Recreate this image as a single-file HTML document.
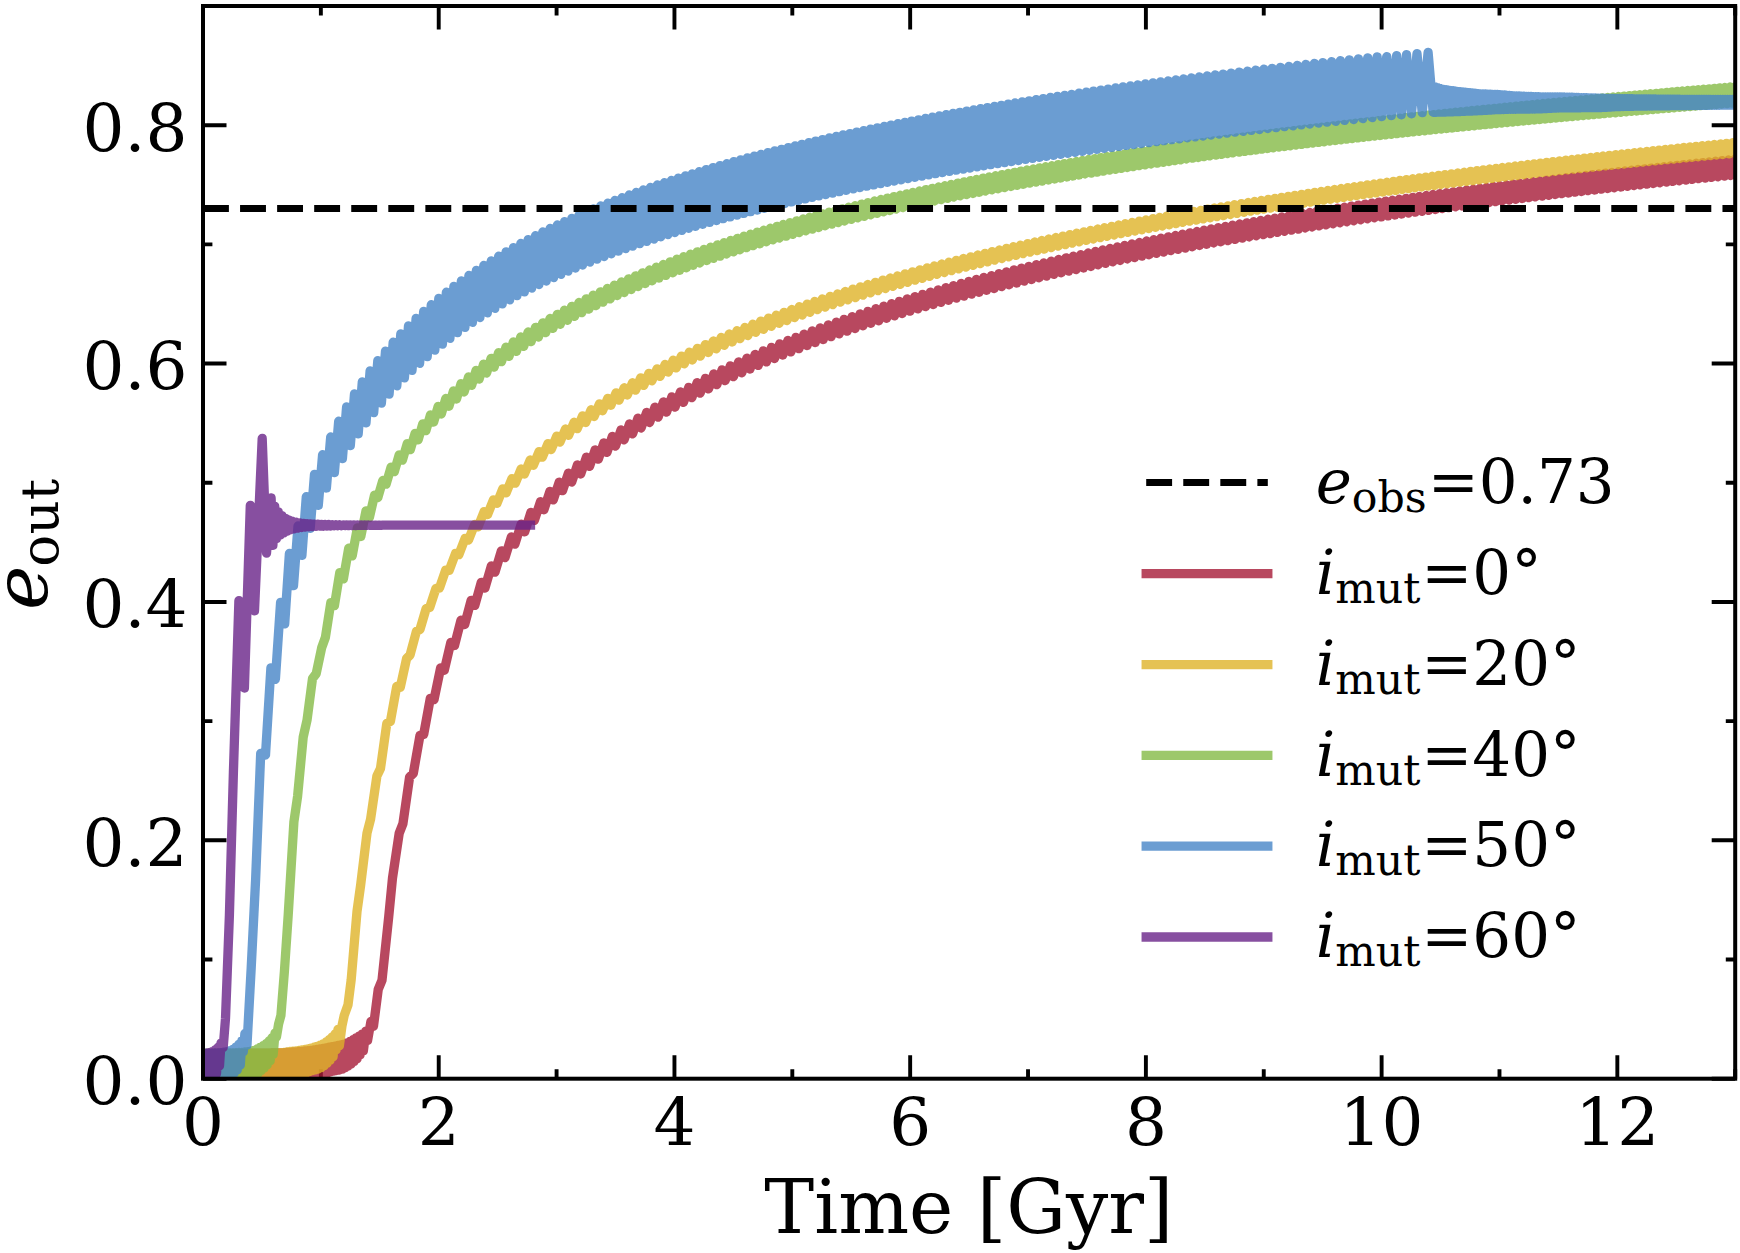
<!DOCTYPE html>
<html lang="en"><head><meta charset="utf-8"><title>e_out vs Time</title>
<style>html,body{margin:0;padding:0;background:#fff}svg{display:block}</style></head>
<body>
<svg width="1740" height="1253" viewBox="0 0 1740 1253" role="img" aria-label="Outer eccentricity versus time for several mutual inclinations">
<rect width="1740" height="1253" fill="#fff"/>
<defs><clipPath id="ax"><rect x="203.0" y="6.0" width="1532.2" height="1072.7"/></clipPath></defs>
<path d="M203.00 1078.70 v-23.50 M203.00 6.00 v23.50 M320.86 1078.70 v-9.40 M320.86 6.00 v9.40 M438.72 1078.70 v-23.50 M438.72 6.00 v23.50 M556.58 1078.70 v-9.40 M556.58 6.00 v9.40 M674.45 1078.70 v-23.50 M674.45 6.00 v23.50 M792.31 1078.70 v-9.40 M792.31 6.00 v9.40 M910.17 1078.70 v-23.50 M910.17 6.00 v23.50 M1028.03 1078.70 v-9.40 M1028.03 6.00 v9.40 M1145.89 1078.70 v-23.50 M1145.89 6.00 v23.50 M1263.75 1078.70 v-9.40 M1263.75 6.00 v9.40 M1381.62 1078.70 v-23.50 M1381.62 6.00 v23.50 M1499.48 1078.70 v-9.40 M1499.48 6.00 v9.40 M1617.34 1078.70 v-23.50 M1617.34 6.00 v23.50 M1735.20 1078.70 v-9.40 M1735.20 6.00 v9.40 M203.00 1078.70 h23.50 M1735.20 1078.70 h-23.50 M203.00 959.51 h9.40 M1735.20 959.51 h-9.40 M203.00 840.32 h23.50 M1735.20 840.32 h-23.50 M203.00 721.13 h9.40 M1735.20 721.13 h-9.40 M203.00 601.94 h23.50 M1735.20 601.94 h-23.50 M203.00 482.76 h9.40 M1735.20 482.76 h-9.40 M203.00 363.57 h23.50 M1735.20 363.57 h-23.50 M203.00 244.38 h9.40 M1735.20 244.38 h-9.40 M203.00 125.19 h23.50 M1735.20 125.19 h-23.50 M203.00 6.00 h9.40 M1735.20 6.00 h-9.40" stroke="#000" stroke-width="3.9" fill="none"/>
<g clip-path="url(#ax)">
<path d="M200.0 1053.3 L201.1 1078.7 L203.0 1053.3 L204.1 1078.7 L206.0 1053.3 L207.1 1078.7 L209.0 1053.3 L210.1 1078.7 L212.0 1053.3 L213.1 1078.7 L215.0 1053.3 L216.1 1078.7 L218.0 1053.3 L219.1 1078.7 L221.0 1053.3 L222.1 1078.7 L224.0 1053.3 L225.1 1078.7 L227.0 1053.3 L228.1 1078.7 L230.0 1053.3 L231.1 1078.7 L233.0 1053.3 L234.1 1078.7 L236.0 1053.3 L237.1 1078.7 L239.0 1053.3 L240.1 1078.7 L242.0 1053.3 L243.1 1078.7 L245.0 1053.3 L246.1 1078.7 L248.0 1053.3 L249.1 1078.7 L251.0 1053.2 L252.1 1078.7 L254.0 1053.2 L255.1 1078.7 L257.0 1053.2 L258.1 1078.7 L260.0 1053.2 L261.1 1078.7 L263.0 1053.1 L264.1 1078.7 L266.0 1053.1 L267.1 1078.7 L269.0 1053.1 L270.1 1078.7 L272.0 1053.0 L273.1 1078.7 L275.0 1052.9 L276.1 1078.7 L278.0 1052.9 L279.1 1078.7 L281.0 1052.8 L282.1 1078.7 L284.0 1052.7 L285.1 1078.7 L287.0 1052.5 L288.1 1078.7 L290.0 1052.3 L291.1 1078.7 L293.0 1052.0 L294.1 1078.7 L296.0 1051.8 L297.1 1078.7 L299.0 1051.5 L300.1 1078.7 L302.0 1051.3 L303.1 1078.7 L305.0 1051.0 L306.1 1078.7 L308.0 1050.7 L309.1 1078.7 L311.0 1050.4 L312.1 1078.7 L314.0 1050.0 L315.1 1078.4 L317.0 1049.5 L318.1 1077.7 L320.0 1048.9 L321.1 1076.8 L323.0 1048.4 L324.1 1075.1 L326.0 1047.8 L327.1 1073.2 L329.0 1047.2 L330.1 1071.8 L332.0 1046.6 L333.1 1071.1 L335.0 1046.1 L336.1 1070.5 L338.0 1045.5 L339.1 1070.0 L341.0 1044.9 L342.1 1069.1 L344.0 1044.1 L345.1 1067.7 L347.0 1042.9 L348.1 1066.0 L350.0 1041.4 L351.1 1064.0 L353.0 1039.7 L354.1 1061.4 L356.0 1037.9 L357.1 1058.7 L359.0 1036.1 L360.1 1054.8 L362.0 1034.2 L363.4 1050.6 L365.8 1031.2 L367.6 1040.5 L370.9 1021.5 L373.5 1026.1 L378.2 989.6 L382.0 980.2 L388.7 916.9 L392.5 878.0 L399.2 833.2 L402.9 823.8 L409.6 777.0 L413.3 773.4 L420.0 735.2 L423.7 734.4 L430.3 698.3 L434.0 699.7 L440.6 668.0 L444.3 670.3 L450.8 642.5 L454.5 645.5 L461.0 620.2 L464.7 624.5 L471.2 600.3 L474.8 605.4 L481.3 582.3 L484.9 588.1 L491.4 565.9 L495.0 572.2 L501.4 550.8 L505.0 557.6 L511.4 536.9 L514.9 544.2 L521.2 524.2 L524.7 531.8 L530.9 512.5 L534.4 520.4 L540.5 501.6 L543.9 509.8 L549.9 491.5 L553.3 499.9 L559.2 482.1 L562.5 490.7 L568.4 473.2 L571.7 482.1 L577.4 465.0 L580.7 474.0 L586.4 457.2 L589.5 466.4 L595.1 449.9 L598.3 459.2 L603.8 442.9 L606.9 452.4 L612.4 436.3 L615.5 446.0 L621.0 430.0 L624.1 439.8 L629.5 424.0 L632.6 433.8 L638.0 418.1 L641.1 428.0 L646.6 412.5 L649.6 422.5 L655.0 407.1 L658.1 417.2 L663.5 401.9 L666.5 412.1 L671.9 396.8 L675.0 407.1 L680.4 392.0 L683.4 402.3 L688.8 387.3 L691.8 397.7 L697.1 382.7 L700.1 393.2 L705.5 378.3 L708.5 388.9 L713.8 374.0 L716.8 384.7 L722.1 369.8 L725.1 380.6 L730.4 365.8 L733.4 376.7 L738.7 361.9 L741.7 372.8 L747.0 358.1 L749.9 369.1 L755.2 354.4 L758.2 365.4 L763.4 350.8 L766.4 361.9 L771.6 347.3 L774.5 358.5 L779.8 343.8 L782.7 355.1 L787.9 340.5 L790.8 351.9 L796.0 337.3 L798.9 348.7 L804.1 334.1 L807.0 345.6 L812.2 331.0 L815.1 342.6 L820.2 328.0 L823.1 339.6 L828.3 325.0 L831.1 336.7 L836.3 322.2 L839.1 333.9 L844.2 319.3 L847.1 331.2 L852.2 316.6 L855.1 328.5 L860.1 313.9 L863.0 325.8 L868.0 311.3 L870.9 323.3 L875.9 308.7 L878.8 320.8 L883.8 306.2 L886.6 318.3 L891.6 303.7 L894.4 315.9 L899.4 301.3 L902.2 313.5 L907.2 298.9 L910.0 311.2 L915.0 296.6 L917.8 308.9 L922.8 294.3 L925.5 306.7 L930.5 292.1 L933.3 304.5 L938.2 289.9 L940.9 302.4 L945.9 287.7 L948.6 300.3 L953.5 285.6 L956.3 298.2 L961.2 283.5 L963.9 296.2 L968.8 281.5 L971.5 294.2 L976.4 279.5 L979.1 292.3 L983.9 277.5 L986.6 290.3 L991.5 275.6 L994.2 288.5 L999.0 273.7 L1001.7 286.6 L1006.5 271.8 L1009.2 284.8 L1014.0 270.0 L1016.7 283.0 L1021.5 268.2 L1024.2 281.2 L1028.9 266.4 L1031.6 279.5 L1036.4 264.6 L1039.1 277.8 L1043.8 262.9 L1046.5 276.1 L1051.2 261.2 L1053.9 274.4 L1058.6 259.5 L1061.3 272.8 L1066.0 257.8 L1068.7 271.2 L1073.4 256.2 L1076.1 269.6 L1080.8 254.6 L1083.4 268.0 L1088.1 253.0 L1090.8 266.5 L1095.5 251.4 L1098.1 264.9 L1102.8 249.9 L1105.5 263.4 L1110.1 248.4 L1112.8 261.9 L1117.4 246.9 L1120.1 260.5 L1124.7 245.4 L1127.4 259.0 L1132.0 243.9 L1134.6 257.6 L1139.3 242.5 L1141.9 256.2 L1146.5 241.0 L1149.1 254.8 L1153.8 239.6 L1156.4 253.4 L1161.0 238.2 L1163.6 252.1 L1168.2 236.8 L1170.8 250.7 L1175.4 235.5 L1178.0 249.4 L1182.6 234.1 L1185.2 248.1 L1189.8 232.8 L1192.4 246.8 L1196.9 231.5 L1199.5 245.5 L1204.1 230.2 L1206.7 244.3 L1211.2 228.9 L1213.8 243.0 L1218.3 227.7 L1220.9 241.8 L1225.5 226.4 L1228.0 240.6 L1232.6 225.2 L1235.1 239.4 L1239.6 224.0 L1242.2 238.2 L1246.7 222.8 L1249.3 237.0 L1253.8 221.6 L1256.3 235.8 L1260.8 220.4 L1263.4 234.7 L1267.9 219.2 L1270.4 233.6 L1274.9 218.1 L1277.4 232.4 L1281.9 216.9 L1284.4 231.3 L1288.9 215.8 L1291.4 230.2 L1295.9 214.7 L1298.4 229.1 L1302.9 213.6 L1305.4 228.0 L1309.8 212.5 L1312.3 227.0 L1316.8 211.4 L1319.3 225.9 L1323.7 210.3 L1326.2 224.9 L1330.6 209.3 L1333.1 223.8 L1337.5 208.2 L1340.0 222.8 L1344.4 207.2 L1346.9 221.8 L1351.3 206.1 L1353.8 220.8 L1358.2 205.1 L1360.7 219.8 L1365.1 204.1 L1367.5 218.8 L1371.9 203.1 L1374.4 217.8 L1378.8 202.1 L1381.2 216.9 L1385.6 201.1 L1388.0 215.9 L1392.4 200.2 L1394.9 215.0 L1399.2 199.2 L1401.6 214.0 L1406.0 198.3 L1408.4 213.1 L1412.8 197.3 L1415.2 212.2 L1419.5 196.4 L1422.0 211.3 L1426.3 195.5 L1428.7 210.4 L1433.0 194.5 L1435.5 209.5 L1439.8 193.6 L1442.2 208.6 L1446.5 192.7 L1448.9 207.7 L1453.2 191.8 L1455.6 206.8 L1459.9 190.9 L1462.3 206.0 L1466.6 190.1 L1469.0 205.1 L1473.3 189.2 L1475.7 204.2 L1479.9 188.3 L1482.3 203.4 L1486.6 187.5 L1489.0 202.6 L1493.3 186.6 L1495.7 201.7 L1499.9 185.8 L1502.3 200.9 L1506.6 185.0 L1509.0 200.1 L1513.2 184.1 L1515.6 199.3 L1519.8 183.3 L1522.2 198.5 L1526.5 182.5 L1528.9 197.7 L1533.1 181.7 L1535.5 196.9 L1539.7 180.9 L1542.1 196.1 L1546.3 180.1 L1548.7 195.3 L1552.9 179.3 L1555.3 194.5 L1559.5 178.5 L1561.9 193.7 L1566.1 177.7 L1568.5 193.0 L1572.7 176.9 L1575.0 192.2 L1579.2 176.2 L1581.6 191.5 L1585.8 175.4 L1588.2 190.7 L1592.4 174.6 L1594.7 190.0 L1598.9 173.9 L1601.3 189.2 L1605.4 173.1 L1607.8 188.5 L1612.0 172.4 L1614.3 187.8 L1618.5 171.7 L1620.9 187.0 L1625.0 170.9 L1627.4 186.3 L1631.6 170.2 L1633.9 185.6 L1638.1 169.5 L1640.4 184.9 L1644.6 168.8 L1646.9 184.2 L1651.1 168.1 L1653.4 183.5 L1657.6 167.4 L1659.9 182.8 L1664.0 166.7 L1666.4 182.1 L1670.5 166.0 L1672.8 181.4 L1677.0 165.3 L1679.3 180.8 L1683.4 164.6 L1685.8 180.1 L1689.9 163.9 L1692.2 179.4 L1696.3 163.2 L1698.7 178.7 L1702.8 162.6 L1705.1 178.1 L1709.2 161.9 L1711.5 177.4 L1715.6 161.2 L1718.0 176.8 L1722.1 160.6 L1724.4 176.1 L1728.5 159.9 L1730.8 175.5 L1734.9 159.3 L1737.2 174.9 L1741.3 159.0" fill="none" stroke="#a61a37" stroke-opacity="0.80" stroke-width="9.3" stroke-linejoin="round" stroke-linecap="square"/>
<path d="M200.0 1053.3 L201.1 1078.7 L203.0 1053.3 L204.1 1078.7 L206.0 1053.3 L207.1 1078.7 L209.0 1053.3 L210.1 1078.7 L212.0 1053.3 L213.1 1078.7 L215.0 1053.3 L216.1 1078.7 L218.0 1053.3 L219.1 1078.7 L221.0 1053.3 L222.1 1078.7 L224.0 1053.3 L225.1 1078.7 L227.0 1053.3 L228.1 1078.7 L230.0 1053.3 L231.1 1078.7 L233.0 1053.3 L234.1 1078.7 L236.0 1053.3 L237.1 1078.7 L239.0 1053.3 L240.1 1078.7 L242.0 1053.3 L243.1 1078.7 L245.0 1053.3 L246.1 1078.7 L248.0 1053.3 L249.1 1078.7 L251.0 1053.2 L252.1 1078.7 L254.0 1053.2 L255.1 1078.7 L257.0 1053.2 L258.1 1078.7 L260.0 1053.2 L261.1 1078.7 L263.0 1053.2 L264.1 1078.7 L266.0 1053.1 L267.1 1078.7 L269.0 1053.1 L270.1 1078.7 L272.0 1053.0 L273.1 1078.7 L275.0 1053.0 L276.1 1078.7 L278.0 1052.9 L279.1 1078.7 L281.0 1052.7 L282.1 1078.7 L284.0 1052.4 L285.1 1078.7 L287.0 1051.9 L288.1 1078.7 L290.0 1051.5 L291.1 1078.7 L293.0 1051.2 L294.1 1078.5 L296.0 1050.8 L297.1 1077.8 L299.0 1050.4 L300.1 1076.8 L302.0 1049.9 L303.1 1075.0 L305.0 1049.4 L306.1 1073.1 L308.0 1048.8 L309.1 1071.7 L311.0 1048.1 L312.1 1070.7 L314.0 1047.2 L315.1 1069.9 L317.0 1046.3 L318.1 1069.0 L320.0 1045.2 L321.1 1067.6 L323.0 1043.8 L324.1 1065.6 L326.0 1042.0 L327.1 1063.2 L329.0 1039.7 L330.1 1060.1 L332.0 1037.1 L333.1 1056.6 L335.0 1034.0 L336.1 1049.9 L338.0 1029.3 L339.4 1045.7 L342.0 1025.7 L344.2 1015.5 L348.0 1004.9 L351.2 979.6 L357.0 911.5 L360.6 885.5 L367.0 833.1 L370.6 819.2 L376.9 776.0 L380.5 768.4 L386.8 723.4 L390.4 721.5 L396.7 686.5 L400.3 687.3 L406.6 658.5 L410.1 654.9 L416.4 631.4 L420.0 629.4 L426.2 608.4 L429.7 607.5 L436.0 588.3 L439.5 588.0 L445.7 570.1 L449.2 570.4 L455.5 553.5 L458.9 554.5 L465.1 538.3 L468.5 540.0 L474.7 524.4 L478.1 526.8 L484.1 511.6 L487.5 514.7 L493.5 499.8 L496.9 503.4 L502.8 488.8 L506.1 492.9 L512.0 478.6 L515.3 483.2 L521.1 469.0 L524.4 474.0 L530.2 460.0 L533.4 465.3 L539.1 451.6 L542.3 457.2 L548.0 443.6 L551.2 449.5 L556.8 436.1 L559.9 442.2 L565.5 429.0 L568.6 435.3 L574.1 422.2 L577.2 428.7 L582.6 415.8 L585.7 422.5 L591.1 409.7 L594.1 416.5 L599.5 403.8 L602.5 410.8 L607.8 398.3 L610.8 405.3 L616.1 392.9 L619.0 400.1 L624.3 387.7 L627.3 395.0 L632.5 382.7 L635.5 390.1 L640.7 377.9 L643.7 385.4 L648.9 373.3 L651.8 380.8 L657.1 368.8 L660.0 376.4 L665.2 364.4 L668.1 372.1 L673.3 360.2 L676.2 367.9 L681.4 356.1 L684.2 363.9 L689.4 352.2 L692.3 360.0 L697.4 348.3 L700.3 356.2 L705.4 344.6 L708.3 352.5 L713.4 341.0 L716.2 348.9 L721.3 337.4 L724.2 345.4 L729.2 334.0 L732.1 342.0 L737.1 330.7 L740.0 338.7 L745.0 327.4 L747.8 335.5 L752.9 324.2 L755.7 332.3 L760.7 321.1 L763.5 329.3 L768.5 318.1 L771.3 326.3 L776.3 315.2 L779.1 323.4 L784.0 312.3 L786.8 320.5 L791.7 309.5 L794.5 317.7 L799.4 306.7 L802.2 315.0 L807.1 304.1 L809.9 312.3 L814.8 301.4 L817.5 309.7 L822.4 298.9 L825.2 307.2 L830.1 296.3 L832.8 304.7 L837.7 293.9 L840.4 302.2 L845.2 291.5 L847.9 299.8 L852.8 289.1 L855.5 297.5 L860.3 286.8 L863.0 295.2 L867.8 284.5 L870.5 292.9 L875.3 282.3 L878.0 290.7 L882.8 280.1 L885.4 288.5 L890.2 278.0 L892.9 286.4 L897.6 275.9 L900.3 284.3 L905.0 273.8 L907.7 282.3 L912.4 271.8 L915.0 280.2 L919.8 269.8 L922.4 278.3 L927.1 267.8 L929.7 276.3 L934.4 265.9 L937.0 274.4 L941.7 264.0 L944.3 272.5 L949.0 262.2 L951.6 270.7 L956.2 260.3 L958.8 268.9 L963.4 258.5 L966.0 267.1 L970.6 256.8 L973.2 265.3 L977.8 255.0 L980.4 263.6 L985.0 253.3 L987.6 261.9 L992.1 251.6 L994.7 260.2 L999.3 250.0 L1001.8 258.5 L1006.4 248.3 L1008.9 256.9 L1013.5 246.7 L1016.0 255.3 L1020.5 245.2 L1023.1 253.7 L1027.6 243.6 L1030.1 252.2 L1034.7 242.0 L1037.2 250.6 L1041.7 240.5 L1044.2 249.1 L1048.7 239.0 L1051.3 247.6 L1055.8 237.5 L1058.3 246.1 L1062.8 236.1 L1065.3 244.7 L1069.8 234.6 L1072.3 243.2 L1076.8 233.2 L1079.3 241.8 L1083.8 231.8 L1086.3 240.4 L1090.7 230.4 L1093.2 239.0 L1097.7 229.0 L1100.2 237.7 L1104.6 227.7 L1107.1 236.3 L1111.6 226.3 L1114.1 235.0 L1118.5 225.0 L1121.0 233.6 L1125.4 223.7 L1127.9 232.3 L1132.3 222.4 L1134.8 231.0 L1139.2 221.1 L1141.7 229.8 L1146.1 219.9 L1148.6 228.5 L1153.0 218.6 L1155.4 227.3 L1159.8 217.4 L1162.3 226.0 L1166.7 216.2 L1169.1 224.8 L1173.5 215.0 L1176.0 223.6 L1180.3 213.8 L1182.8 222.4 L1187.2 212.6 L1189.6 221.2 L1194.0 211.4 L1196.4 220.1 L1200.8 210.3 L1203.2 218.9 L1207.6 209.1 L1210.0 217.8 L1214.3 208.0 L1216.8 216.7 L1221.1 206.9 L1223.5 215.6 L1227.9 205.8 L1230.3 214.5 L1234.6 204.7 L1237.0 213.4 L1241.3 203.6 L1243.8 212.3 L1248.1 202.5 L1250.5 211.2 L1254.8 201.4 L1257.2 210.2 L1261.5 200.4 L1263.9 209.1 L1268.2 199.3 L1270.6 208.1 L1274.9 198.3 L1277.3 207.1 L1281.5 197.3 L1283.9 206.1 L1288.2 196.3 L1290.6 205.1 L1294.8 195.3 L1297.2 204.1 L1301.5 194.3 L1303.9 203.1 L1308.1 193.3 L1310.5 202.1 L1314.7 192.3 L1317.1 201.2 L1321.4 191.4 L1323.7 200.2 L1328.0 190.4 L1330.3 199.3 L1334.5 189.5 L1336.9 198.3 L1341.1 188.5 L1343.5 197.4 L1347.7 187.6 L1350.1 196.5 L1354.2 186.7 L1356.6 195.6 L1360.8 185.8 L1363.2 194.7 L1367.3 184.9 L1369.7 193.8 L1373.9 184.0 L1376.2 192.9 L1380.4 183.1 L1382.7 192.1 L1386.9 182.2 L1389.2 191.2 L1393.4 181.3 L1395.7 190.4 L1399.9 180.4 L1402.2 189.5 L1406.4 179.6 L1408.7 188.7 L1412.8 178.7 L1415.1 187.8 L1419.3 177.9 L1421.6 187.0 L1425.7 177.1 L1428.0 186.2 L1432.2 176.2 L1434.5 185.4 L1438.6 175.4 L1440.9 184.6 L1445.0 174.6 L1447.3 183.8 L1451.4 173.8 L1453.7 183.0 L1457.8 173.0 L1460.1 182.2 L1464.2 172.2 L1466.5 181.4 L1470.6 171.4 L1472.9 180.7 L1477.0 170.6 L1479.3 179.9 L1483.3 169.8 L1485.6 179.2 L1489.7 169.0 L1492.0 178.4 L1496.1 168.3 L1498.4 177.7 L1502.4 167.5 L1504.7 176.9 L1508.8 166.8 L1511.0 176.2 L1515.1 166.0 L1517.4 175.5 L1521.4 165.3 L1523.7 174.8 L1527.8 164.5 L1530.0 174.1 L1534.1 163.8 L1536.4 173.3 L1540.4 163.1 L1542.7 172.6 L1546.7 162.3 L1549.0 172.0 L1553.0 161.6 L1555.3 171.3 L1559.3 160.9 L1561.5 170.6 L1565.6 160.2 L1567.8 169.9 L1571.9 159.5 L1574.1 169.2 L1578.1 158.8 L1580.4 168.6 L1584.4 158.1 L1586.6 167.9 L1590.6 157.4 L1592.9 167.2 L1596.9 156.7 L1599.1 166.6 L1603.1 156.0 L1605.4 165.9 L1609.4 155.3 L1611.6 165.3 L1615.6 154.7 L1617.9 164.6 L1621.8 154.0 L1624.1 164.0 L1628.1 153.3 L1630.3 163.4 L1634.3 152.7 L1636.5 162.8 L1640.5 152.0 L1642.7 162.1 L1646.7 151.4 L1648.9 161.5 L1652.9 150.7 L1655.1 160.9 L1659.1 150.1 L1661.3 160.3 L1665.2 149.4 L1667.5 159.7 L1671.4 148.8 L1673.6 159.1 L1677.6 148.2 L1679.8 158.5 L1683.7 147.5 L1686.0 157.9 L1689.9 146.9 L1692.1 157.3 L1696.1 146.3 L1698.3 156.8 L1702.2 145.7 L1704.4 156.2 L1708.3 145.1 L1710.5 155.6 L1714.5 144.5 L1716.7 155.0 L1720.6 143.9 L1722.8 154.5 L1726.7 143.3 L1728.9 153.9 L1732.8 142.7 L1735.0 153.4 L1738.9 142.3 L1741.1 153.3" fill="none" stroke="#deb328" stroke-opacity="0.80" stroke-width="9.3" stroke-linejoin="round" stroke-linecap="square"/>
<path d="M200.0 1053.3 L201.2 1078.7 L203.0 1053.3 L204.2 1078.7 L206.0 1053.3 L207.2 1078.7 L209.0 1053.3 L210.2 1078.7 L212.0 1053.3 L213.2 1078.7 L215.0 1053.3 L216.2 1078.7 L218.0 1053.2 L219.2 1078.7 L221.0 1053.1 L222.2 1078.7 L224.0 1053.1 L225.2 1078.7 L227.0 1053.0 L228.2 1078.7 L230.0 1052.9 L231.2 1078.7 L233.0 1052.8 L234.2 1078.7 L236.0 1052.6 L237.2 1078.7 L239.0 1052.5 L240.2 1078.7 L242.0 1052.3 L243.2 1078.7 L245.0 1052.0 L246.2 1078.6 L248.0 1051.6 L249.2 1077.9 L251.0 1051.1 L252.2 1076.8 L254.0 1050.3 L255.2 1075.0 L257.0 1049.0 L258.2 1072.8 L260.0 1047.3 L261.2 1070.5 L263.0 1045.7 L264.2 1067.8 L266.0 1043.7 L267.2 1064.6 L269.0 1041.0 L270.2 1060.7 L272.0 1037.7 L273.2 1054.3 L275.0 1033.1 L276.4 1037.3 L278.6 1024.0 L280.9 1015.6 L284.4 971.5 L288.2 915.1 L293.9 821.9 L297.6 796.3 L303.2 737.1 L307.0 720.3 L312.5 678.5 L316.2 673.6 L321.7 647.6 L325.4 637.4 L330.8 602.6 L334.4 605.7 L339.8 572.6 L343.4 578.9 L348.7 548.2 L352.2 555.9 L357.4 527.8 L360.8 536.5 L366.0 510.8 L369.4 517.5 L374.5 495.2 L377.8 497.6 L382.8 480.5 L386.1 484.2 L391.1 467.1 L394.3 471.7 L399.2 454.9 L402.4 460.2 L407.2 443.7 L410.3 449.6 L415.1 433.4 L418.2 439.8 L422.8 423.8 L425.9 430.7 L430.5 414.9 L433.6 422.1 L438.2 406.4 L441.3 414.0 L445.8 398.5 L448.9 406.3 L453.5 390.9 L456.5 399.0 L461.0 383.7 L464.1 392.0 L468.6 376.9 L471.6 385.4 L476.1 370.4 L479.1 379.1 L483.6 364.2 L486.6 373.0 L491.1 358.3 L494.1 367.2 L498.6 352.6 L501.5 361.7 L506.0 347.1 L509.0 356.4 L513.4 341.9 L516.4 351.3 L520.8 336.9 L523.7 346.3 L528.1 332.0 L531.1 341.6 L535.5 327.3 L538.4 337.0 L542.8 322.8 L545.7 332.6 L550.0 318.5 L552.9 328.4 L557.3 314.3 L560.2 324.3 L564.5 310.2 L567.4 320.3 L571.7 306.3 L574.6 316.4 L578.9 302.5 L581.8 312.7 L586.1 298.8 L588.9 309.1 L593.2 295.2 L596.0 305.6 L600.3 291.8 L603.1 302.2 L607.4 288.4 L610.2 298.9 L614.4 285.1 L617.2 295.6 L621.5 281.9 L624.3 292.5 L628.5 278.8 L631.3 289.5 L635.5 275.8 L638.2 286.5 L642.4 272.8 L645.2 283.6 L649.4 270.0 L652.1 280.8 L656.3 267.2 L659.0 278.1 L663.2 264.5 L665.9 275.4 L670.0 261.8 L672.8 272.8 L676.9 259.2 L679.6 270.3 L683.7 256.7 L686.4 267.8 L690.5 254.2 L693.2 265.3 L697.2 251.8 L699.9 263.0 L704.0 249.4 L706.7 260.6 L710.7 247.1 L713.4 258.4 L717.4 244.8 L720.1 256.2 L724.1 242.6 L726.7 254.0 L730.7 240.4 L733.4 251.9 L737.4 238.3 L740.0 249.8 L744.0 236.2 L746.6 247.7 L750.6 234.2 L753.2 245.7 L757.2 232.2 L759.8 243.8 L763.7 230.2 L766.4 241.8 L770.3 228.2 L772.9 239.9 L776.9 226.3 L779.5 238.1 L783.4 224.4 L786.1 236.2 L790.0 222.6 L792.6 234.4 L796.5 220.8 L799.1 232.7 L803.1 219.0 L805.7 230.9 L809.6 217.2 L812.2 229.2 L816.1 215.5 L818.7 227.5 L822.6 213.8 L825.2 225.8 L829.1 212.1 L831.7 224.2 L835.6 210.5 L838.2 222.6 L842.1 208.8 L844.7 221.0 L848.6 207.2 L851.2 219.4 L855.1 205.7 L857.7 217.9 L861.5 204.1 L864.1 216.4 L868.0 202.6 L870.6 214.9 L874.5 201.0 L877.0 213.4 L880.9 199.5 L883.5 211.9 L887.3 198.1 L889.9 210.5 L893.8 196.6 L896.3 209.1 L900.2 195.2 L902.8 207.7 L906.6 193.8 L909.2 206.3 L913.0 192.4 L915.6 204.9 L919.4 191.0 L922.0 203.6 L925.8 189.6 L928.4 202.3 L932.2 188.3 L934.7 201.0 L938.6 187.0 L941.1 199.7 L944.9 185.7 L947.5 198.4 L951.3 184.4 L953.8 197.1 L957.7 183.1 L960.2 195.9 L964.0 181.8 L966.5 194.7 L970.4 180.6 L972.9 193.5 L976.7 179.4 L979.2 192.3 L983.0 178.1 L985.5 191.1 L989.3 176.9 L991.9 189.9 L995.6 175.7 L998.2 188.8 L1001.9 174.6 L1004.5 187.6 L1008.2 173.4 L1010.8 186.5 L1014.5 172.3 L1017.0 185.4 L1020.8 171.1 L1023.3 184.3 L1027.0 170.0 L1029.5 183.2 L1033.3 168.9 L1035.8 182.1 L1039.5 167.8 L1042.0 181.1 L1045.7 166.7 L1048.2 180.0 L1051.9 165.7 L1054.4 179.0 L1058.1 164.6 L1060.5 178.0 L1064.2 163.6 L1066.7 177.0 L1070.4 162.6 L1072.8 176.0 L1076.5 161.5 L1078.9 175.0 L1082.6 160.5 L1085.1 174.0 L1088.7 159.5 L1091.2 173.1 L1094.8 158.6 L1097.2 172.1 L1100.9 157.6 L1103.3 171.2 L1106.9 156.6 L1109.4 170.2 L1113.0 155.7 L1115.4 169.3 L1119.0 154.7 L1121.4 168.4 L1125.0 153.8 L1127.4 167.5 L1131.0 152.9 L1133.4 166.6 L1137.0 152.0 L1139.4 165.7 L1143.0 151.1 L1145.4 164.9 L1148.9 150.2 L1151.3 164.0 L1154.9 149.3 L1157.3 163.2 L1160.8 148.5 L1163.2 162.3 L1166.7 147.6 L1169.1 161.5 L1172.6 146.7 L1175.0 160.7 L1178.5 145.9 L1180.9 159.9 L1184.4 145.1 L1186.7 159.0 L1190.2 144.2 L1192.6 158.2 L1196.1 143.4 L1198.4 157.5 L1201.9 142.6 L1204.2 156.7 L1207.7 141.8 L1210.0 155.9 L1213.5 141.0 L1215.8 155.1 L1219.3 140.2 L1221.6 154.4 L1225.1 139.4 L1227.4 153.6 L1230.8 138.7 L1233.1 152.9 L1236.6 137.9 L1238.9 152.1 L1242.3 137.1 L1244.6 151.4 L1248.0 136.4 L1250.3 150.7 L1253.7 135.6 L1256.0 150.0 L1259.4 134.9 L1261.7 149.2 L1265.1 134.2 L1267.4 148.5 L1270.8 133.5 L1273.1 147.8 L1276.5 132.7 L1278.8 147.1 L1282.2 132.0 L1284.4 146.5 L1287.8 131.3 L1290.1 145.8 L1293.5 130.6 L1295.8 145.1 L1299.2 129.9 L1301.4 144.4 L1304.8 129.2 L1307.1 143.7 L1310.5 128.5 L1312.7 143.1 L1316.1 127.8 L1318.4 142.4 L1321.8 127.2 L1324.0 141.8 L1327.4 126.5 L1329.6 141.1 L1333.0 125.8 L1335.3 140.5 L1338.6 125.2 L1340.9 139.8 L1344.3 124.5 L1346.5 139.2 L1349.9 123.8 L1352.1 138.6 L1355.5 123.2 L1357.7 137.9 L1361.1 122.5 L1363.3 137.3 L1366.7 121.9 L1368.9 136.7 L1372.3 121.3 L1374.5 136.1 L1377.9 120.6 L1380.1 135.5 L1383.4 120.0 L1385.7 134.9 L1389.0 119.4 L1391.2 134.3 L1394.6 118.8 L1396.8 133.7 L1400.1 118.2 L1402.4 133.1 L1405.7 117.5 L1407.9 132.5 L1411.3 116.9 L1413.5 131.9 L1416.8 116.3 L1419.0 131.3 L1422.4 115.7 L1424.6 130.8 L1427.9 115.1 L1430.1 130.2 L1433.4 114.6 L1435.6 129.6 L1439.0 114.0 L1441.2 129.1 L1444.5 113.4 L1446.7 128.5 L1450.0 112.8 L1452.2 128.0 L1455.5 112.2 L1457.7 127.4 L1461.0 111.7 L1463.2 126.9 L1466.5 111.1 L1468.7 126.3 L1472.0 110.5 L1474.2 125.8 L1477.5 110.0 L1479.7 125.2 L1483.0 109.4 L1485.2 124.7 L1488.5 108.9 L1490.7 124.2 L1494.0 108.3 L1496.2 123.6 L1499.4 107.8 L1501.6 123.1 L1504.9 107.2 L1507.1 122.6 L1510.4 106.7 L1512.6 122.1 L1515.8 106.1 L1518.0 121.5 L1521.3 105.6 L1523.5 121.0 L1526.7 105.1 L1528.9 120.5 L1532.2 104.6 L1534.4 120.0 L1537.6 104.0 L1539.8 119.5 L1543.0 103.5 L1545.2 119.0 L1548.5 103.0 L1550.6 118.5 L1553.9 102.5 L1556.1 118.0 L1559.3 102.0 L1561.5 117.5 L1564.7 101.5 L1566.9 117.0 L1570.1 101.0 L1572.3 116.6 L1575.5 100.5 L1577.7 116.1 L1580.9 100.0 L1583.1 115.6 L1586.3 99.5 L1588.5 115.1 L1591.7 99.0 L1593.9 114.7 L1597.1 98.5 L1599.2 114.2 L1602.5 98.0 L1604.6 113.7 L1607.8 97.5 L1610.0 113.2 L1613.2 97.0 L1615.4 112.8 L1618.6 96.5 L1620.7 112.3 L1623.9 96.1 L1626.1 111.9 L1629.3 95.6 L1631.4 111.4 L1634.6 95.1 L1636.8 111.0 L1640.0 94.7 L1642.1 110.5 L1645.3 94.2 L1647.4 110.1 L1650.6 93.7 L1652.8 109.6 L1656.0 93.3 L1658.1 109.2 L1661.3 92.8 L1663.4 108.7 L1666.6 92.3 L1668.7 108.3 L1671.9 91.9 L1674.0 107.9 L1677.2 91.4 L1679.4 107.4 L1682.5 91.0 L1684.7 107.0 L1687.8 90.5 L1690.0 106.6 L1693.1 90.1 L1695.3 106.1 L1698.4 89.7 L1700.6 105.7 L1703.7 89.2 L1705.9 105.3 L1709.0 88.8 L1711.2 104.9 L1714.3 88.3 L1716.5 104.5 L1719.6 87.9 L1721.8 104.0 L1724.9 87.5 L1727.1 103.6 L1730.2 87.0 L1732.4 103.2 L1735.5 86.6 L1737.7 102.9 L1740.8 86.5" fill="none" stroke="#84ba46" stroke-opacity="0.80" stroke-width="9.3" stroke-linejoin="round" stroke-linecap="square"/>
<path d="M202.8 1053.3 L204.2 1078.7 L205.8 1053.3 L207.2 1078.7 L208.8 1053.3 L210.2 1078.7 L211.8 1053.1 L213.2 1078.7 L214.8 1053.0 L216.2 1078.7 L217.8 1052.8 L219.3 1078.7 L220.8 1052.6 L222.3 1078.7 L223.8 1052.2 L225.3 1078.1 L226.9 1051.6 L228.3 1077.1 L229.9 1050.7 L231.3 1075.4 L232.9 1049.3 L234.3 1072.8 L235.9 1047.1 L237.3 1069.6 L238.9 1044.3 L240.3 1064.9 L241.9 1040.5 L243.3 1051.7 L244.9 1033.5 L247.0 1045.1 L251.2 967.9 L255.6 880.0 L260.7 753.3 L265.5 755.0 L270.9 667.8 L275.4 679.3 L280.6 602.3 L284.7 623.9 L289.4 553.5 L293.5 585.7 L298.0 526.0 L301.9 555.4 L306.3 496.7 L310.2 528.4 L314.5 474.4 L318.3 505.3 L322.6 454.7 L326.4 488.0 L330.7 437.0 L334.4 472.6 L338.7 421.2 L342.4 458.6 L346.6 406.9 L350.3 445.7 L354.5 393.8 L358.2 433.8 L362.3 381.8 L366.0 422.9 L370.1 370.8 L373.7 412.7 L377.8 360.6 L381.4 403.2 L385.5 351.1 L389.1 394.2 L393.2 342.2 L396.8 385.8 L400.8 333.8 L404.4 377.9 L408.5 325.9 L412.0 370.4 L416.1 318.4 L419.6 363.3 L423.7 311.4 L427.2 356.6 L431.3 304.7 L434.8 350.2 L438.8 298.3 L442.4 344.1 L446.4 292.2 L449.9 338.3 L453.9 286.4 L457.4 332.7 L461.4 280.9 L464.9 327.4 L468.9 275.5 L472.4 322.3 L476.4 270.4 L479.9 317.5 L483.8 265.5 L487.3 312.8 L491.3 260.8 L494.8 308.3 L498.7 256.2 L502.2 303.9 L506.1 251.8 L509.6 299.8 L513.5 247.6 L516.9 295.7 L520.8 243.5 L524.3 291.9 L528.2 239.6 L531.6 288.1 L535.5 235.7 L538.9 284.5 L542.8 232.0 L546.2 281.0 L550.1 228.4 L553.5 277.6 L557.4 224.9 L560.8 274.3 L564.6 221.6 L568.0 271.1 L571.9 218.3 L575.3 268.0 L579.1 215.1 L582.5 265.0 L586.3 212.0 L589.7 262.1 L593.5 209.0 L596.9 259.2 L600.7 206.0 L604.0 256.5 L607.8 203.2 L611.2 253.8 L614.9 200.4 L618.3 251.2 L622.1 197.7 L625.4 248.6 L629.2 195.0 L632.5 246.2 L636.2 192.4 L639.6 243.7 L643.3 189.9 L646.6 241.4 L650.4 187.5 L653.7 239.1 L657.4 185.0 L660.7 236.8 L664.4 182.7 L667.7 234.6 L671.4 180.4 L674.7 232.5 L678.4 178.1 L681.7 230.4 L685.3 175.9 L688.6 228.3 L692.3 173.8 L695.5 226.3 L699.2 171.7 L702.5 224.3 L706.1 169.6 L709.4 222.4 L713.0 167.6 L716.3 220.5 L719.9 165.6 L723.1 218.7 L726.8 163.7 L730.0 216.9 L733.6 161.7 L736.8 215.1 L740.4 159.9 L743.6 213.4 L747.2 158.0 L750.5 211.7 L754.1 156.2 L757.3 210.0 L760.9 154.5 L764.1 208.3 L767.7 152.7 L770.9 206.7 L774.5 151.0 L777.7 205.1 L781.4 149.3 L784.6 203.5 L788.2 147.6 L791.4 201.9 L795.0 146.0 L798.2 200.4 L801.8 144.3 L805.1 198.9 L808.7 142.7 L811.9 197.4 L815.5 141.1 L818.7 195.9 L822.4 139.6 L825.6 194.5 L829.2 138.0 L832.4 193.1 L836.1 136.5 L839.3 191.7 L842.9 135.0 L846.1 190.3 L849.8 133.6 L853.0 188.9 L856.6 132.1 L859.8 187.5 L863.5 130.7 L866.7 186.2 L870.3 129.2 L873.6 184.9 L877.2 127.8 L880.4 183.6 L884.1 126.5 L887.3 182.3 L890.9 125.1 L894.1 181.0 L897.8 123.7 L901.0 179.8 L904.7 122.4 L907.9 178.5 L911.5 121.1 L914.8 177.3 L918.4 119.8 L921.7 176.1 L925.3 118.5 L928.5 174.9 L932.2 117.2 L935.4 173.7 L939.1 116.0 L942.3 172.5 L946.0 114.7 L949.2 171.4 L952.9 113.5 L956.1 170.2 L959.7 112.3 L963.0 169.1 L966.6 111.1 L969.9 168.0 L973.5 109.9 L976.8 166.9 L980.4 108.7 L983.7 165.8 L987.3 107.6 L990.6 164.7 L994.3 106.4 L997.5 163.6 L1001.2 105.3 L1004.4 162.6 L1008.1 104.1 L1011.3 161.5 L1015.0 103.0 L1018.3 160.5 L1022.0 101.9 L1025.3 159.4 L1029.0 100.8 L1032.3 158.4 L1036.0 99.7 L1039.4 157.3 L1043.1 98.6 L1046.4 156.3 L1050.2 97.5 L1053.5 155.3 L1057.3 96.4 L1060.7 154.3 L1064.5 95.4 L1067.8 153.3 L1071.7 94.3 L1075.0 152.3 L1078.9 93.2 L1082.3 151.3 L1086.1 92.2 L1089.5 150.3 L1093.4 91.1 L1096.8 149.3 L1100.7 90.1 L1104.1 148.3 L1108.0 89.1 L1111.5 147.4 L1115.4 88.0 L1118.9 146.4 L1122.8 87.0 L1126.3 145.4 L1130.2 86.0 L1133.7 144.5 L1137.7 85.0 L1141.2 143.5 L1145.2 84.0 L1148.8 142.6 L1152.8 83.0 L1156.4 141.6 L1160.4 82.0 L1164.0 140.7 L1168.1 81.0 L1171.7 139.7 L1175.8 80.0 L1179.4 138.8 L1183.5 79.0 L1187.2 137.8 L1191.3 78.0 L1195.0 136.9 L1199.2 77.0 L1202.9 136.0 L1207.1 76.0 L1210.9 135.0 L1215.1 75.0 L1218.8 134.1 L1223.1 74.1 L1226.9 133.2 L1231.1 73.1 L1234.9 132.2 L1239.2 72.1 L1243.0 131.3 L1247.4 71.2 L1251.2 130.4 L1255.6 70.2 L1259.4 129.5 L1263.8 69.2 L1267.7 128.6 L1272.1 68.3 L1276.0 127.7 L1280.4 67.3 L1284.4 126.7 L1288.8 66.4 L1292.8 125.8 L1297.2 65.4 L1301.2 124.9 L1305.7 64.5 L1309.7 124.0 L1314.3 63.5 L1318.3 123.1 L1322.8 62.6 L1326.9 122.2 L1331.5 61.7 L1335.6 121.3 L1340.3 60.7 L1344.5 120.4 L1349.3 59.8 L1353.6 119.5 L1358.4 58.8 L1362.7 118.6 L1367.7 57.9 L1372.1 117.6 L1377.1 56.9 L1381.6 116.7 L1386.7 56.7 L1391.3 115.7 L1396.6 55.6 L1401.2 114.8 L1406.5 54.6 L1411.4 113.8 L1417.0 53.7 L1422.2 112.7 L1428.1 52.4 L1433.2 112.3 L1432.5 86.3 L1433.7 112.3 L1434.9 86.9 L1436.1 112.3 L1437.3 87.7 L1438.5 112.2 L1439.7 88.5 L1440.9 112.2 L1442.1 89.1 L1443.3 112.1 L1444.5 89.6 L1445.7 112.0 L1446.9 90.0 L1448.1 111.9 L1449.3 90.3 L1450.5 111.9 L1451.7 90.6 L1452.9 111.8 L1454.1 91.0 L1455.3 111.7 L1456.5 91.3 L1457.7 111.6 L1458.9 91.6 L1460.1 111.5 L1461.3 91.9 L1462.5 111.4 L1463.7 92.2 L1464.9 111.3 L1466.1 92.5 L1467.3 111.2 L1468.5 92.7 L1469.7 111.1 L1470.9 93.0 L1472.1 111.0 L1473.3 93.2 L1474.5 110.9 L1475.7 93.4 L1476.9 110.8 L1478.1 93.6 L1479.3 110.7 L1480.5 93.8 L1481.7 110.6 L1482.9 93.9 L1484.1 110.4 L1485.3 94.0 L1486.5 110.3 L1487.7 94.1 L1488.9 110.1 L1490.1 94.2 L1491.3 110.0 L1492.5 94.3 L1493.7 109.8 L1494.9 94.4 L1496.1 109.7 L1497.3 94.5 L1498.5 109.6 L1499.7 94.6 L1500.9 109.5 L1502.1 94.8 L1503.3 109.5 L1504.5 95.0 L1505.7 109.4 L1506.9 95.3 L1508.1 109.4 L1509.3 95.5 L1510.5 109.3 L1511.7 95.6 L1512.9 109.3 L1514.1 95.8 L1515.3 109.3 L1516.5 95.9 L1517.7 109.2 L1518.9 96.0 L1520.1 109.2 L1521.3 96.1 L1522.5 109.2 L1523.7 96.2 L1524.9 109.1 L1526.1 96.3 L1527.3 109.1 L1528.5 96.4 L1529.7 109.1 L1530.9 96.5 L1532.1 109.0 L1533.3 96.6 L1534.5 109.0 L1535.7 96.7 L1536.9 108.9 L1538.1 96.7 L1539.3 108.9 L1540.5 96.8 L1541.7 108.8 L1542.9 96.8 L1544.1 108.7 L1545.3 96.8 L1546.5 108.6 L1547.7 96.8 L1548.9 108.4 L1550.1 96.9 L1551.3 108.3 L1552.5 96.9 L1553.7 108.2 L1554.9 96.9 L1556.1 108.1 L1557.3 96.9 L1558.5 108.0 L1559.7 96.9 L1560.9 107.9 L1562.1 97.0 L1563.3 107.9 L1564.5 97.0 L1565.7 107.9 L1566.9 97.1 L1568.1 107.8 L1569.3 97.2 L1570.5 107.8 L1571.7 97.2 L1572.9 107.8 L1574.1 97.3 L1575.3 107.8 L1576.5 97.4 L1577.7 107.8 L1578.9 97.5 L1580.1 107.8 L1581.3 97.6 L1582.5 107.7 L1583.7 97.6 L1584.9 107.7 L1586.1 97.7 L1587.3 107.7 L1588.5 97.8 L1589.7 107.7 L1590.9 97.9 L1592.1 107.7 L1593.3 98.0 L1594.5 107.6 L1595.7 98.0 L1596.9 107.6 L1598.1 98.1 L1599.3 107.6 L1600.5 98.2 L1601.7 107.5 L1602.9 98.2 L1604.1 107.4 L1605.3 98.3 L1606.5 107.3 L1607.7 98.3 L1608.9 107.1 L1610.1 98.4 L1611.3 107.0 L1612.5 98.4 L1613.7 106.8 L1614.9 98.5 L1616.1 106.7 L1617.3 98.5 L1618.5 106.6 L1619.7 98.5 L1620.9 106.5 L1622.1 98.6 L1623.3 106.5 L1624.5 98.6 L1625.7 106.4 L1626.9 98.7 L1628.1 106.4 L1629.3 98.7 L1630.5 106.3 L1631.7 98.7 L1632.9 106.3 L1634.1 98.8 L1635.3 106.2 L1636.5 98.8 L1637.7 106.2 L1638.9 98.8 L1640.1 106.1 L1641.3 98.9 L1642.5 106.1 L1643.7 98.9 L1644.9 106.1 L1646.1 98.9 L1647.3 106.0 L1648.5 98.9 L1649.7 106.0 L1650.9 99.0 L1652.1 106.0 L1653.3 99.0 L1654.5 105.9 L1655.7 99.0 L1656.9 105.9 L1658.1 99.1 L1659.3 105.9 L1660.5 99.1 L1661.7 105.9 L1662.9 99.1 L1664.1 105.8 L1665.3 99.1 L1666.5 105.8 L1667.7 99.1 L1668.9 105.8 L1670.1 99.2 L1671.3 105.7 L1672.5 99.2 L1673.7 105.7 L1674.9 99.2 L1676.1 105.7 L1677.3 99.2 L1678.5 105.7 L1679.7 99.2 L1680.9 105.6 L1682.1 99.3 L1683.3 105.6 L1684.5 99.3 L1685.7 105.6 L1686.9 99.3 L1688.1 105.6 L1689.3 99.3 L1690.5 105.5 L1691.7 99.3 L1692.9 105.5 L1694.1 99.3 L1695.3 105.5 L1696.5 99.4 L1697.7 105.5 L1698.9 99.4 L1700.1 105.4 L1701.3 99.4 L1702.5 105.4 L1703.7 99.4 L1704.9 105.4 L1706.1 99.4 L1707.3 105.4 L1708.5 99.4 L1709.7 105.3 L1710.9 99.5 L1712.1 105.3 L1713.3 99.5 L1714.5 105.3 L1715.7 99.5 L1716.9 105.3 L1718.1 99.5 L1719.3 105.3 L1720.5 99.5 L1721.7 105.2 L1722.9 99.5 L1724.1 105.2 L1725.3 99.5 L1726.5 105.2 L1727.7 99.5 L1728.9 105.2 L1730.1 99.5 L1731.3 105.2 L1732.5 99.5 L1733.7 105.2 L1734.9 99.5 L1736.1 105.2 L1737.3 99.5 L1738.5 105.2 L1739.7 99.5 L1740.9 105.2" fill="none" stroke="#4684c7" stroke-opacity="0.80" stroke-width="9.3" stroke-linejoin="round" stroke-linecap="square"/>
<path d="M200.0 1053.3 L201.5 1078.7 L203.0 1053.3 L204.5 1078.7 L206.0 1053.3 L207.5 1078.7 L209.0 1052.7 L210.5 1077.9 L212.0 1051.6 L213.5 1076.4 L215.0 1049.9 L216.5 1073.6 L218.0 1047.4 L219.5 1065.7 L221.0 1043.1 L223.2 1047.6 L225.5 1018.5 L229.4 915.4 L233.4 772.5 L238.9 600.7 L244.4 688.0 L250.3 505.3 L254.5 610.8 L262.2 438.4 L266.5 553.0 L271.1 498.0 L272.9 545.4 L274.7 506.3 L276.5 538.5 L278.3 511.8 L280.1 535.1 L281.9 515.6 L283.7 532.9 L285.5 518.3 L287.3 531.1 L289.1 520.0 L290.9 529.7 L292.7 521.4 L294.5 528.8 L296.3 522.2 L298.1 528.1 L299.9 522.8 L301.7 527.5 L303.5 523.3 L305.3 527.0 L307.1 523.7 L308.9 526.8 L310.7 523.9 L312.5 526.6 L314.3 524.1 L316.1 526.4 L317.9 524.2 L319.7 526.2 L321.5 524.4 L323.3 526.1 L325.1 524.5 L326.9 526.0 L328.7 524.6 L330.5 525.9 L332.3 524.7 L334.1 525.8 L335.9 524.7 L337.7 525.7 L339.5 524.8 L341.3 525.7 L343.1 524.8 L344.9 525.6 L346.7 524.9 L348.5 525.6 L350.3 524.9 L352.1 525.5 L353.9 524.9 L355.7 525.5 L357.5 525.0 L359.3 525.4 L361.1 525.0 L362.9 525.4 L364.7 525.0 L366.5 525.4 L368.3 525.0 L370.1 525.3 L371.9 525.1 L373.7 525.3 L375.5 525.1 L377.3 525.3 L379.1 525.1 L380.9 525.3 L382.7 525.1 L384.5 525.2 L386.3 525.1 L388.1 525.2 L389.9 525.1 L391.7 525.2 L393.5 525.1 L395.3 525.2 L397.1 525.1 L398.9 525.2 L530.5 525.1" fill="none" stroke="#692388" stroke-opacity="0.80" stroke-width="9.3" stroke-linejoin="round" stroke-linecap="square"/>
<path d="M203.0 208.6 H1735.2" stroke="#000" stroke-width="7" stroke-dasharray="25.9 11.16" fill="none"/>
</g>
<rect x="203.0" y="6.0" width="1532.2" height="1072.7" fill="none" stroke="#000" stroke-width="4.0"/>
<g font-family="'DejaVu Serif', 'Liberation Serif', serif" fill="#000">
<text x="203.0" y="1145.3" font-size="66.0" text-anchor="middle">0</text>
<text x="438.7" y="1145.3" font-size="66.0" text-anchor="middle">2</text>
<text x="674.4" y="1145.3" font-size="66.0" text-anchor="middle">4</text>
<text x="910.2" y="1145.3" font-size="66.0" text-anchor="middle">6</text>
<text x="1145.9" y="1145.3" font-size="66.0" text-anchor="middle">8</text>
<text x="1381.6" y="1145.3" font-size="66.0" text-anchor="middle">10</text>
<text x="1617.3" y="1145.3" font-size="66.0" text-anchor="middle">12</text>
<text x="187.4" y="1104.2" font-size="66.0" text-anchor="end">0.0</text>
<text x="187.4" y="865.8" font-size="66.0" text-anchor="end">0.2</text>
<text x="187.4" y="627.4" font-size="66.0" text-anchor="end">0.4</text>
<text x="187.4" y="389.1" font-size="66.0" text-anchor="end">0.6</text>
<text x="187.4" y="150.7" font-size="66.0" text-anchor="end">0.8</text>
<text x="968.8" y="1232.7" font-size="74.8" text-anchor="middle">Time [Gyr]</text>
<text transform="translate(46.8 609.9) rotate(-90)" font-size="74.8"><tspan font-style="italic">e</tspan><tspan font-size="53.2" dy="11.2" dx="-1">out</tspan></text>
<path d="M1146.2 482.6 H1267.8" stroke="#000" stroke-width="7" stroke-dasharray="25.9 11.16" fill="none"/>
<path d="M1146.2 573.7 H1267.8" stroke="#a61a37" stroke-opacity="0.80" stroke-width="9.3" stroke-linecap="square" fill="none"/>
<path d="M1146.2 664.6 H1267.8" stroke="#deb328" stroke-opacity="0.80" stroke-width="9.3" stroke-linecap="square" fill="none"/>
<path d="M1146.2 755.4 H1267.8" stroke="#84ba46" stroke-opacity="0.80" stroke-width="9.3" stroke-linecap="square" fill="none"/>
<path d="M1146.2 846.2 H1267.8" stroke="#4684c7" stroke-opacity="0.80" stroke-width="9.3" stroke-linecap="square" fill="none"/>
<path d="M1146.2 937.0 H1267.8" stroke="#692388" stroke-opacity="0.80" stroke-width="9.3" stroke-linecap="square" fill="none"/>
<text x="1315.7" y="502.7" font-size="61.0"><tspan font-style="italic">e</tspan><tspan font-size="42.7" dy="9">obs</tspan><tspan font-size="61.0" dy="-9" dx="0.9">=0.73</tspan></text>
<text x="1315.7" y="593.8" font-size="61.0"><tspan font-style="italic">i</tspan><tspan font-size="42.7" dy="9">mut</tspan><tspan font-size="61.0" dy="-9" dx="0.9">=0°</tspan></text>
<text x="1315.7" y="684.7" font-size="61.0"><tspan font-style="italic">i</tspan><tspan font-size="42.7" dy="9">mut</tspan><tspan font-size="61.0" dy="-9" dx="0.9">=20°</tspan></text>
<text x="1315.7" y="775.5" font-size="61.0"><tspan font-style="italic">i</tspan><tspan font-size="42.7" dy="9">mut</tspan><tspan font-size="61.0" dy="-9" dx="0.9">=40°</tspan></text>
<text x="1315.7" y="866.3" font-size="61.0"><tspan font-style="italic">i</tspan><tspan font-size="42.7" dy="9">mut</tspan><tspan font-size="61.0" dy="-9" dx="0.9">=50°</tspan></text>
<text x="1315.7" y="957.1" font-size="61.0"><tspan font-style="italic">i</tspan><tspan font-size="42.7" dy="9">mut</tspan><tspan font-size="61.0" dy="-9" dx="0.9">=60°</tspan></text>
</g>
</svg>
</body></html>
